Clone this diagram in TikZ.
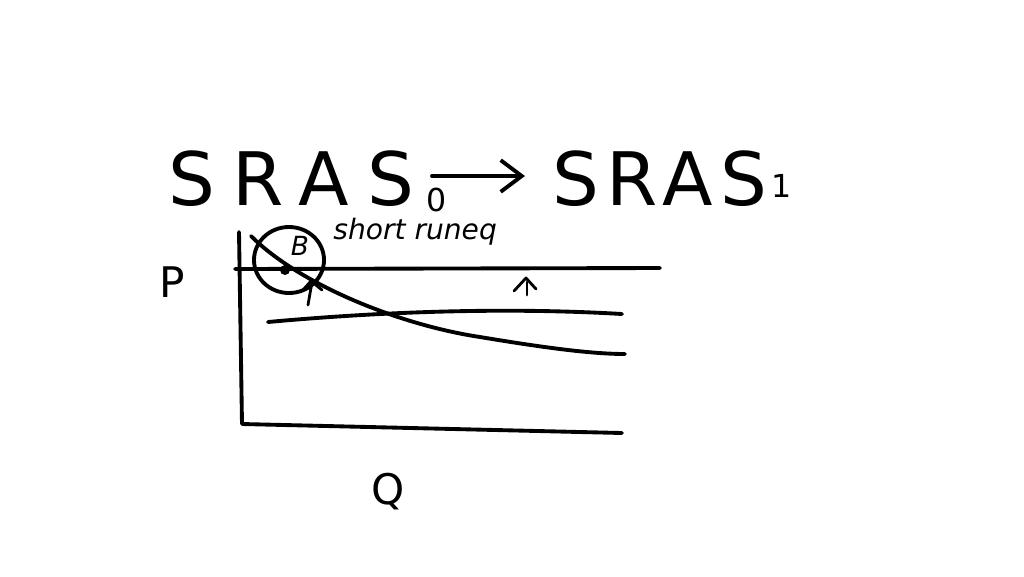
\documentclass[tikz,border=0pt]{standalone}
\usepackage{fontspec}
\setmainfont{DejaVu Sans}
\usetikzlibrary{arrows.meta}
\begin{document}
\begin{tikzpicture}[x=0.02cm,y=-0.02cm,
  ink/.style={line width=2.2pt,line cap=round,line join=round},
  thin ink/.style={line width=1.6pt,line cap=round,line join=round},
  big/.style={font=\fontsize{42}{42}\selectfont, inner sep=0pt, text depth=0pt},
  subs/.style={font=\fontsize{18}{18}\selectfont, inner sep=0pt},
  lbl/.style={font=\fontsize{24}{24}\selectfont, inner sep=0pt},
  note/.style={font=\fontsize{16}{16}\selectfont\itshape, inner sep=0pt}]
\useasboundingbox (0,0) rectangle (1024,576);
% title
\node[big,anchor=base west] (s0) at (168,205) {\addfontfeature{LetterSpace=24}SRAS};
\node[subs] (sub0) at (437,200) {0};
\node[big,anchor=base west] (s1) at (552,205) {\addfontfeature{LetterSpace=10}SRAS};
\node[subs] (sub1) at (782,186) {1};
\coordinate (a0) at (432,176);
\coordinate (a1) at (525,176);
\draw[ink,-{Straight Barb[length=12pt,width=18pt]}] (a0) -- (a1);
% axes
\coordinate (ytop) at (239,232);
\coordinate (orig) at (242,424);
\coordinate (xend) at (622,433);
\draw[ink] (ytop) -- (orig) -- (xend);
\node[lbl] (P) at (172,282) {P};
\node[lbl] (Q) at (388,492) {Q};
% long-run horizontal line
\coordinate (h0) at (235,269);
\coordinate (h1) at (660,268);
\draw[ink] (h0) -- (h1);
% SRAS lower line
\coordinate (l0) at (268,322);
\coordinate (l1) at (622,314);
\draw[ink] (l0) .. controls (400,310) and (520,308) .. (l1);
% demand curve
\coordinate (d0) at (251,236);
\coordinate (d1) at (625,354);
\draw[ink] (d0) .. controls (300,285) and (400,325) .. (480,337) .. controls (540,347) and (590,354) .. (d1);
% circle around B
\coordinate (cc) at (289,260);
\draw[ink] (cc) ellipse [x radius=35, y radius=33];
\node[font=\fontsize{15}{15}\selectfont\itshape, inner sep=0pt] (B) at (300,246) {B};
\fill (285,270) circle [radius=5];
% small arrows
\coordinate (u0) at (308,305);
\coordinate (u1) at (312,282);
\draw[thin ink] (u0) -- (u1);
\draw[thin ink] (303,290) -- (311,281) -- (322,290);
\coordinate (v0) at (514,291);
\coordinate (v1) at (526,278);
\draw[thin ink] (v0) -- (v1) -- (536,289);
\draw[thin ink] (527,282) -- (527,295);
% note
\node[note,anchor=base west] (short) at (333,239) {short runeq};
\end{tikzpicture}
\end{document}
